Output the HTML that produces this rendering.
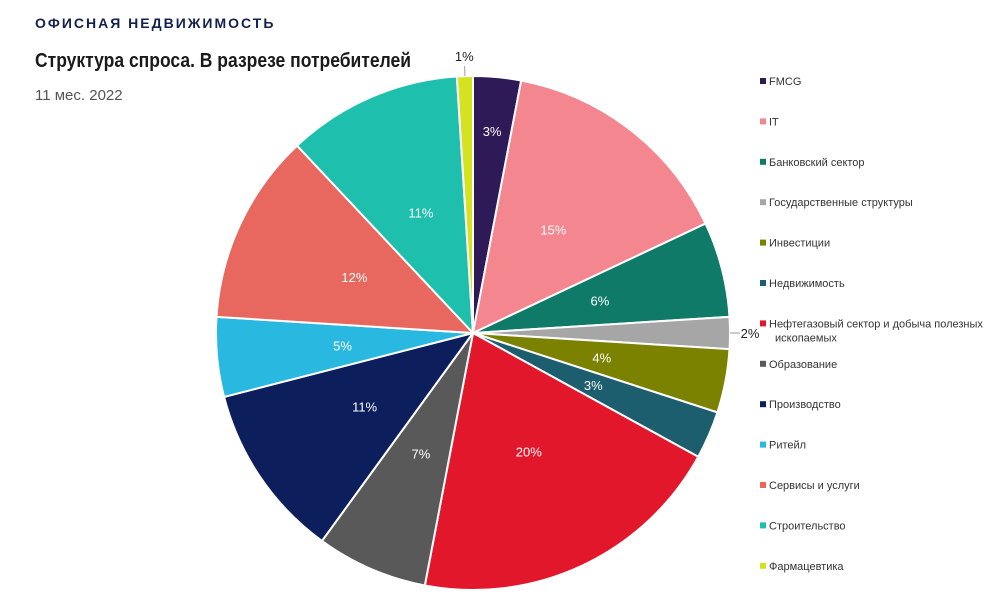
<!DOCTYPE html>
<html><head><meta charset="utf-8"><style>
body{margin:0;width:1000px;height:600px;background:#fff;font-family:"Liberation Sans",sans-serif;overflow:hidden;position:relative}
.h{position:absolute;left:35px;top:15px;font-size:14px;font-weight:bold;letter-spacing:2px;color:#14214f}
.t{position:absolute;left:35px;top:50px;font-size:20px;font-weight:bold;color:#1a1a1a;transform:scaleX(0.875);transform-origin:left}
.s{position:absolute;left:35px;top:87px;font-size:15px;color:#555}
</style></head><body>
<div class="h">ОФИСНАЯ НЕДВИЖИМОСТЬ</div>
<div class="t">Структура спроса. В разрезе потребителей</div>
<div class="s">11 мес. 2022</div>
<svg id="c" width="1000" height="600" style="position:absolute;left:0;top:0"></svg>
<script>
const categories=["FMCG","IT","Банковский сектор","Государственные  структуры","Инвестиции","Недвижимость","Нефтегазовый сектор и добыча полезных|ископаемых","Образование","Производство","Ритейл","Сервисы и услуги","Строительство","Фармацевтика"];
const values=[3,15,6,2,4,3,20,7,11,5,12,11,1];
const colors=["#2e1a57","#f4868f","#0f7a68","#a6a6a6","#7b8200","#1d5e6e","#e3172c","#595959","#0c1f5c","#28b8e0","#e8685f","#1fbfae","#d4e21f"];
const NS="http://www.w3.org/2000/svg",svg=document.getElementById('c');
const cx=473,cy=333,r=257;
const total=values.reduce((a,b)=>a+b,0);
function pt(a,rr){return [cx+rr*Math.sin(a),cy-rr*Math.cos(a)];}
let acc=0;
values.forEach((v,i)=>{
  const a0=acc/total*2*Math.PI;acc+=v;const a1=acc/total*2*Math.PI;
  const p0=pt(a0,r),p1=pt(a1,r);
  const p=document.createElementNS(NS,'path');
  p.setAttribute('d',`M${cx},${cy}L${p0[0]},${p0[1]}A${r},${r} 0 ${a1-a0>Math.PI?1:0} 1 ${p1[0]},${p1[1]}Z`);
  p.setAttribute('fill',colors[i]);p.setAttribute('stroke','#fff');p.setAttribute('stroke-width','2');
  
  
  svg.appendChild(p);
  const am=(a0+a1)/2;
  const t=document.createElementNS(NS,'text');
  let lp,fill='#fff';
  if(v<=2){lp=pt(am,r+20);fill='#222';
    const l=document.createElementNS(NS,'line');const q0=pt(am,r),q1=pt(am,r+10);
    l.setAttribute('x1',q0[0]);l.setAttribute('y1',q0[1]);l.setAttribute('x2',q1[0]);l.setAttribute('y2',q1[1]);l.setAttribute('stroke','#999');
    
    
    svg.appendChild(l);}
  else lp=pt(am,i===0?r*0.79:r*0.51);
  t.setAttribute('x',lp[0]);t.setAttribute('y',lp[1]+5);t.setAttribute('text-anchor','middle');
  t.setAttribute('font-size','13');t.setAttribute('fill',fill);
  t.textContent=v+'%';
  
  
  svg.appendChild(t);
});
categories.forEach((c,i)=>{
  const y=82+i*40.4;
  const g=document.createElementNS(NS,'g');
  
  
  const m=document.createElementNS(NS,'rect');
  m.setAttribute('x',760);m.setAttribute('y',y-4);m.setAttribute('width',6);m.setAttribute('height',6);m.setAttribute('fill',colors[i]);
  g.appendChild(m);
  c.split('|').forEach((line,k)=>{
    const t=document.createElementNS(NS,'text');
    t.setAttribute('x',k?775:769);t.setAttribute('y',y+3+k*14);t.setAttribute('font-size','11');t.setAttribute('fill','#333');
    t.textContent=line;g.appendChild(t);
  });
  svg.appendChild(g);
});
</script>
</body></html>
